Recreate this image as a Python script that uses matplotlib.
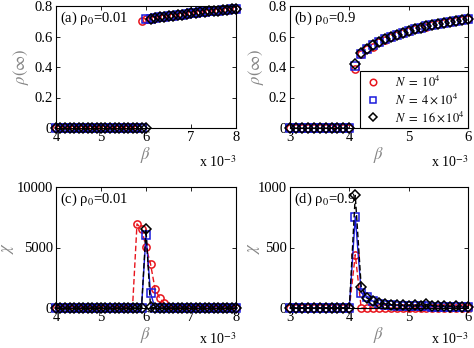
import numpy as np
import matplotlib
matplotlib.use("Agg")
import matplotlib.pyplot as plt

plt.rcParams['font.family'] = ['Liberation Serif', 'DejaVu Serif']
plt.rcParams['mathtext.fontset'] = 'stix'
plt.rcParams['font.size'] = 10

# beta grids (units of 1e-3)
beta_low = np.round(np.linspace(4.0, 8.0, 41), 1)   # rho0 = 0.01
beta_high = np.round(np.linspace(3.0, 6.0, 31), 1)  # rho0 = 0.9

series_labels = [r'$N\ =\ 10^4$', r'$N\ =\ 4\times10^4$', r'$N\ =\ 16\times10^4$']
series_colors = ['#e8141c', '#1a1adc', '#000000']
series_markers = ['o', 's', 'D']
series_lines = ['--', '-', '--']

# (a) steady-state density, rho0 = 0.01
top_a = [0.718, 0.722, 0.726, 0.730, 0.734, 0.737, 0.741, 0.744, 0.748, 0.751,
         0.754, 0.758, 0.761, 0.764, 0.767, 0.770, 0.773, 0.776, 0.779, 0.782]
rho_a_N1 = [0.0] * 19 + [0.700, 0.712] + top_a
rho_a_N4 = [0.0] * 20 + [0.712] + top_a
rho_a_N16 = [0.0] * 21 + top_a

# (b) steady-state density, rho0 = 0.9
rho_b_N1 = [0.0] * 11 + [0.385, 0.485, 0.515, 0.530, 0.563, 0.580, 0.596, 0.610, 0.624, 0.636,
                         0.646, 0.656, 0.665, 0.674, 0.682, 0.689, 0.696, 0.702, 0.708, 0.713]
rho_b_N4 = [0.0] * 11 + [0.405, 0.488, 0.518, 0.543, 0.564, 0.581, 0.597, 0.611, 0.625, 0.637,
                         0.647, 0.657, 0.666, 0.675, 0.683, 0.690, 0.697, 0.703, 0.709, 0.714]
rho_b_N16 = [0.0] * 11 + [0.420, 0.490, 0.520, 0.545, 0.565, 0.582, 0.598, 0.612, 0.626, 0.638,
                          0.648, 0.658, 0.667, 0.676, 0.684, 0.691, 0.698, 0.704, 0.710, 0.715]

# (c) susceptibility, rho0 = 0.01
chi_c_N1 = [0.0] * 18 + [6950, 6550, 5050, 3650, 1600, 850, 380, 100, 30] + [0.0] * 14
chi_c_N4 = [0.0] * 20 + [6050, 1250] + [0.0] * 19
chi_c_N16 = [0.0] * 20 + [6500, 100] + [0.0] * 19

# (d) susceptibility, rho0 = 0.9
chi_d_N1 = [0.0] * 11 + [440] + [0.0] * 19
chi_d_N4 = [0.0] * 11 + [755, 125, 95, 55, 35, 28, 22, 20, 18, 16,
                         15, 14, 13, 12, 11, 10, 9, 9, 8, 8]
chi_d_N16 = [0.0] * 11 + [930, 175, 80, 60, 40, 35, 28, 25, 22, 20,
                          25, 18, 30, 20, 15, 18, 12, 14, 10, 10]

fig = plt.figure(figsize=(4.74, 3.48), dpi=100)
W, H = 474.0, 348.0


def make_axes(left, top, width, height):
    return fig.add_axes([left / W, 1 - (top + height) / H, width / W, height / H])


ax_a = make_axes(56, 6, 180, 122)
ax_b = make_axes(290, 6, 178, 122)
ax_c = make_axes(56, 187, 180, 121)
ax_d = make_axes(290, 187, 178, 121)

label_gray = '#858585'


def draw(ax, x, ys, with_lines):
    for y, c, m, ls, lab in zip(ys, series_colors, series_markers, series_lines, series_labels):
        ms = 4.6 if m == 'D' else 5.2
        kw = dict(color=c, lw=1.0, marker=m, ms=ms, mfc='none', mec=c, mew=1.1,
                  clip_on=False, label=lab)
        if with_lines:
            kw['linestyle'] = ls
            if ls == '--':
                kw['dashes'] = (4, 2)
        else:
            kw['linestyle'] = 'none'
        ax.plot(x, y, **kw)


def style(ax, xlim, xticks, ylim, yticks, yticklabels, ylabel, ylabel_x, tag, exp_y):
    ax.set_xlim(*xlim)
    ax.set_ylim(*ylim)
    ax.set_xticks(xticks)
    ax.set_xticklabels([str(t) for t in xticks])
    ax.set_yticks(yticks)
    ax.set_yticklabels(yticklabels)
    ax.tick_params(direction='in', length=3, width=0.6, top=True, right=True,
                   labelsize=10.5, pad=2)
    for s in ax.spines.values():
        s.set_linewidth(0.8)
    ax.set_xlabel(r'$\beta$', color=label_gray, fontsize=12)
    ax.xaxis.set_label_coords(0.5, -0.14)
    ax.set_ylabel(ylabel, color=label_gray, fontsize=12)
    ax.yaxis.set_label_coords(ylabel_x, 0.5)
    ax.text(1.0, exp_y, r'x 10$^{-3}$', transform=ax.transAxes, ha='right',
            va='center', fontsize=10)
    ax.text(0.025, 0.97, tag, transform=ax.transAxes, ha='left', va='top', fontsize=10.5)


draw(ax_a, beta_low, [rho_a_N1, rho_a_N4, rho_a_N16], False)
draw(ax_b, beta_high, [rho_b_N1, rho_b_N4, rho_b_N16], False)
draw(ax_c, beta_low, [chi_c_N1, chi_c_N4, chi_c_N16], True)
draw(ax_d, beta_high, [chi_d_N1, chi_d_N4, chi_d_N16], True)

style(ax_a, (4, 8), [4, 5, 6, 7, 8], (0, 0.8), [0, 0.2, 0.4, 0.6, 0.8],
      ['0', '0.2', '0.4', '0.6', '0.8'], r'$\rho(\infty)$', -0.14, r'(a) ρ$_0$=0.01', -0.28)
style(ax_b, (3, 6), [3, 4, 5, 6], (0, 0.8), [0, 0.2, 0.4, 0.6, 0.8],
      ['0', '0.2', '0.4', '0.6', '0.8'], r'$\rho(\infty)$', -0.135, r'(b) ρ$_0$=0.9', -0.28)
style(ax_c, (4, 8), [4, 5, 6, 7, 8], (0, 10000), [0, 5000, 10000],
      ['0', '5000', '10000'], r'$\chi$', -0.22, r'(c) ρ$_0$=0.01', -0.255)
style(ax_d, (3, 6), [3, 4, 5, 6], (0, 1000), [0, 500, 1000],
      ['0', '500', '1000'], r'$\chi$', -0.16, r'(d) ρ$_0$=0.9', -0.255)

leg = ax_b.legend(loc='lower right', borderaxespad=0.0, fontsize=9, frameon=True,
                  fancybox=False, framealpha=1.0, edgecolor='black',
                  handlelength=1.5, handletextpad=1.0, labelspacing=0.2,
                  borderpad=0.3, markerscale=0.9)
leg.get_frame().set_linewidth(0.8)

fig.savefig('out.png', dpi=100)
